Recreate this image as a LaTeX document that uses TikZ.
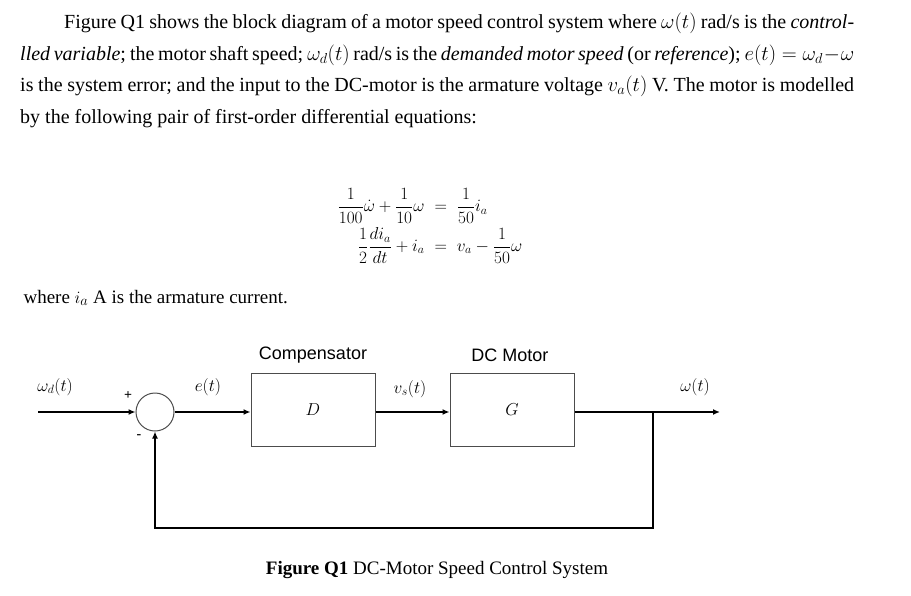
\documentclass[tikz,border=0pt]{standalone}
\usepackage{amsmath}
\usepackage{fontspec}
\setmainfont{Liberation Serif}
\newfontfamily\sanf{Liberation Sans}
\usetikzlibrary{arrows.meta}
\begin{document}
\begin{tikzpicture}[x=1pt,y=-1pt,
  blk/.style={draw=black!70,line width=1pt,minimum width=124pt,minimum height=73pt},
  sig/.style={line width=1.4pt,-{Latex[length=7pt,width=6pt]}},
  lab/.style={font=\fontsize{18}{20}\selectfont}]
\useasboundingbox (0,0) rectangle (911,595);
% paragraph
\node[anchor=north west,inner sep=0,text width=834pt,align=justify,font=\fontsize{20}{31.5}\selectfont] (par) at (20,13)
{\hspace*{44pt}Figure Q1 shows the block diagram of a motor speed control system where $\omega(t)$ rad/s is the \textit{controllled variable}; the motor shaft speed; $\omega_d(t)$ rad/s is the \textit{demanded motor speed} (or \textit{reference}); $e(t)=\omega_d-\omega$ is the system error; and the input to the DC-motor is the ar\-mature voltage $v_a(t)$ V. The motor is modelled by the following pair of first-order differential equations:};
\node[font=\fontsize{18}{20}\selectfont] (eq) at (430,226)
{$\begin{array}{rcl}
\dfrac{1}{100}\dot\omega+\dfrac{1}{10}\omega &=& \dfrac{1}{50}i_a\\[10pt]
\dfrac{1}{2}\dfrac{di_a}{dt}+i_a &=& v_a-\dfrac{1}{50}\omega
\end{array}$};
\node[anchor=west,font=\fontsize{19}{20}\selectfont] (wh) at (20,298) {where $i_a$ A is the armature current.};
% diagram
\node[circle,draw=black!70,line width=1pt,minimum size=38pt,inner sep=0] (sum) at (155,412) {};
\node[blk] (D) at (313,410) {\fontsize{18}{20}\selectfont$D$};
\node[blk] (G) at (512,410) {\fontsize{18}{20}\selectfont$G$};
\node[font=\sanf\fontsize{18}{20}\selectfont] (cl) at (313,355) {Compensator};
\node[font=\sanf\fontsize{18}{20}\selectfont] (ml) at (510,355) {DC Motor};
\coordinate (in) at (38,412);
\coordinate (out) at (720,412);
\coordinate (br) at (653,412);
\coordinate (bl) at (653,528);
\coordinate (bc) at (155,528);
\draw[sig] (in) -- (sum.west);
\draw[sig] (sum.east) -- (D.west |- sum.east);
\draw[sig] (D.east |- sum.east) -- (G.west |- sum.east);
\draw[sig] (G.east |- sum.east) -- (out);
\draw[sig] (br) -- (bl) -- (bc) -- (sum.south);
\node[lab] (wd) at (55,387) {$\omega_d(t)$};
\node[font=\bfseries\fontsize{14}{14}\selectfont] (pl) at (128,396) {+};
\node[font=\bfseries\fontsize{14}{14}\selectfont] (mi) at (139,437) {-};
\node[lab] (et) at (208,387) {$e(t)$};
\node[lab] (vs) at (410,389) {$v_s(t)$};
\node[lab] (wt) at (695,387) {$\omega(t)$};
\node[font=\fontsize{19}{20}\selectfont] (cap) at (437,570) {\textbf{Figure Q1} DC-Motor Speed Control System};
\end{tikzpicture}
\end{document}
